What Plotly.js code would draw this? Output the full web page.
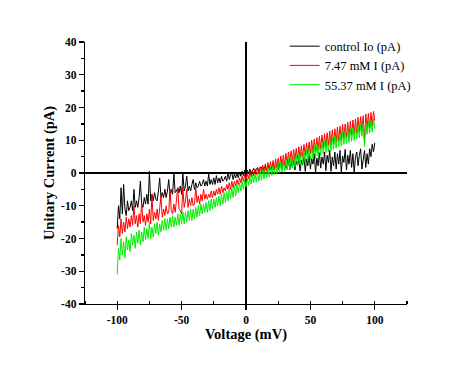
<!DOCTYPE html>
<html>
<head>
<meta charset="utf-8">
<script src="https://cdn.plot.ly/plotly-3.0.1.min.js"></script>
<style>html,body{margin:0;padding:0;background:#fff}#chart{width:474px;height:365px}</style>
</head>
<body>
<div id="chart"></div>
<script>
const seriesNames = ['control Io (pA)', '7.47 mM I (pA)', '55.37 mM I (pA)'];
const seriesColors = ['#000000', '#ff0000', '#00ee00'];

const voltage = [
-100,-99,-98,-97,-96,-95,-94,-93,-92,-91,-90,-89,-88,-87,-86,-85,-84,-83,-82,-81,
-80,-79,-78,-77,-76,-75,-74,-73,-72,-71,-70,-69,-68,-67,-66,-65,-64,-63,-62,-61,
-60,-59,-58,-57,-56,-55,-54,-53,-52,-51,-50,-49,-48,-47,-46,-45,-44,-43,-42,-41,
-40,-39,-38,-37,-36,-35,-34,-33,-32,-31,-30,-29,-28,-27,-26,-25,-24,-23,-22,-21,
-20,-19,-18,-17,-16,-15,-14,-13,-12,-11,-10,-9,-8,-7,-6,-5,-4,-3,-2,-1,
0,1,2,3,4,5,6,7,8,9,10,11,12,13,14,15,16,17,18,19,
20,21,22,23,24,25,26,27,28,29,30,31,32,33,34,35,36,37,38,39,
40,41,42,43,44,45,46,47,48,49,50,51,52,53,54,55,56,57,58,59,
60,61,62,63,64,65,66,67,68,69,70,71,72,73,74,75,76,77,78,79,
80,81,82,83,84,85,86,87,88,89,90,91,92,93,94,95,96,97,98,99,100];

const controlIo = [
-17,-10,-14,-4.5,-12.5,-3.5,-11,-13,-8.5,-11.5,-10.5,-8.5,-11.5,-5,-10.5,-8.5,-10.5,-7.5,-2.5,-9.5,
-10.5,-7.5,-9.5,-6.5,-9.5,0.5,-8.5,-6.5,-8.5,-6,-8,-8.5,-5.5,-1.5,-7.5,-6,-7.5,-5,-7.5,-5.5,
-2,-7,-5,-6.5,-0.3,-6,-5.5,-4.5,-6,-4,-6.5,-0.3,-5.5,-4,-1,-5.5,-4,-5.5,-3.5,-2,
-5,-3,-4.5,-4,-2.5,-4,-3.5,-2,-4,-2.5,-4,-0.3,-3.5,-2,-3.5,-1.5,-3.5,-0.8,-3,-1.5,
-3,-1,-2.5,-2,-1,-2.5,0.3,-2,-0.5,0,-2,-0.3,-1.5,0,-1.5,0.3,-1,0.6,-0.8,0.9,
-0.3,0.9,-0.2,1.2,0,1,1.4,0.2,1.3,1.6,0.4,1.4,1.8,0.6,1.7,2,0.7,1.9,2.2,0.9,
1.9,2.4,1,2.3,2.6,1.1,2.4,2.9,1.3,2.8,3.2,1.4,3,3.6,1,3.4,1.8,4,0.9,3.7,
2.2,4.4,0.6,3.9,2.5,4.9,0.5,4.2,2.2,5.4,1.2,4.4,2.7,5.9,0.2,4.6,2.2,6.2,1.5,4.9,
2.7,6.4,0.7,5.4,3.2,6.9,0.5,4.9,2.2,6.4,1.2,5.9,2.7,6.9,0.2,5.2,3.2,7.2,0.9,5.4,
2.7,6.9,1.7,5.9,0.2,4.9,6.4,2.2,5.4,7.4,1.2,4.9,6.9,1.7,5.9,2.7,7.4,5,8.8,6.5,9.2];

const mM747 = [
-22,-16,-19.5,-14,-18.5,-15,-18,-13.5,-17,-14,-16.5,-13,-16,-10,-15.5,-13,-16.5,-12.5,-15.5,-9,
-15,-13,-16,-12.5,-15,-11,-15.5,-6.5,-14.5,-12,-14,-11,-14.5,-11.5,-7,-13.5,-11,-13,-10,-12.5,
-12,-5,-11.5,-12.5,-9.5,-12,-9,-4.5,-11,-11.5,-12.5,-4.5,-10.5,-8.5,-5,-10.5,-8,-10,-7.5,-10,
-9.5,-4.5,-9,-7,-9.5,-6.5,-8.5,-5,-8,-6.5,-8,-6.5,-7.5,-5.5,-7.5,-5.5,-7,-5,-6.5,-4.5,
-6.5,-4,-6,-4.5,-5.5,-3.5,-5,-3,-5,-2.5,-4.5,-2.5,-4,-2,-3.5,-1.5,-3,-1,-2.5,-0.5,
-2,0,-1.8,0.3,-1.2,0.8,-0.8,1.2,-0.5,1.8,-0.2,2,0.2,2.4,0.4,2.8,0.6,3.2,0.9,3.5,
1,3.8,1.3,4.3,1.6,4.6,1.8,5.2,2.2,5.5,2.5,6,2.8,6.4,3.2,6.8,3.5,7.2,4,7.5,
4.2,8,4.6,8.3,5,8.7,5.2,9.2,5.6,9.5,6,10,6.2,10.4,6.6,10.8,7,11.2,7.4,11.6,
7.6,12,8,12.3,8.4,12.8,8.6,13.2,9,13.5,9.4,14,9.8,14.3,10,14.8,10.5,15,10.8,15.5,
11,15.8,11.5,16.2,11.8,16.5,12,17,12.5,17.2,12.8,17.5,9.5,18,13.5,18.2,13.8,18.5,14.2,18.8,16];

const mM5537 = [
-31,-23,-26.5,-20,-25,-21,-26,-19.5,-23.5,-20.5,-24,-18.5,-22,-19,-23,-18,-21.5,-17.5,-22,-18,
-21,-16.5,-20.5,-17,-20,-15,-20,-16.5,-19.5,-15.5,-18.5,-15,-19,-15.5,-18,-14.5,-17.5,-14,-17.5,-14,
-17,-13.5,-16.5,-13,-16.5,-13.5,-16,-12.5,-16,-12.5,-15.5,-12,-15.5,-12,-15,-11.5,-14.5,-11,-14.5,-11,
-14,-10.5,-13.5,-10,-13,-9.5,-12.5,-9.5,-12,-9,-12,-8.5,-11.5,-8,-11,-8,-10.5,-7.5,-10,-7,
-10,-6.5,-9.5,-6,-9,-5.5,-8.5,-5,-8,-4.5,-7.5,-4,-7,-3.5,-6,-3,-5.5,-2.5,-5,-2,
-4.3,-1.5,-3.8,-1,-3.4,-0.5,-3,-0.2,-2.8,0.2,-2.5,0.5,-2.2,1,-1.8,1.3,-1.5,1.6,-1.2,2,
-0.8,2.3,-0.5,2.6,-0.2,3,0,3.3,0.3,3.7,0.6,4,0.9,4.4,1.2,4.8,1.5,5.2,1.8,5.5,
2.2,5.8,2.5,6.3,2.8,6.7,3.2,7,3.6,7.5,4,7.8,4.3,8.3,4.7,8.7,5,9,5.4,9.5,
5.8,9.8,6.2,10.2,6.5,10.5,6.8,11,7.2,11.4,7.6,11.7,8,12,8.3,12.5,8.7,12.8,9,13.2,
9.3,13.5,9.7,13.8,10,14.2,10.4,14.5,10.8,14.8,11.2,15.2,8,15.5,11.8,15.8,12.2,16,12.5,16.5,13.5];

const xTickVals = [-100, -50, 0, 50, 100];
const xTickText = ['-100', '-50', '0', '50', '100'];
const yTickVals = [-40, -30, -20, -10, 0, 10, 20, 30, 40];
const yTickText = ['-40', '-30', '-20', '-10', '0', '10', '20', '30', '40'];

const seriesData = [controlIo, mM747, mM5537];
const traces = seriesData.map((ys, k) => ({
  x: voltage, y: ys, type: 'scatter', mode: 'lines', name: seriesNames[k],
  line: {color: seriesColors[k], width: 1}
}));

const serif = '"Liberation Serif", "Times New Roman", Times, serif';
const layout = {
  width: 474, height: 365,
  margin: {l: 85, r: 67, t: 42, b: 61},
  paper_bgcolor: '#fff', plot_bgcolor: '#fff',
  showlegend: true,
  legend: {x: 0.62, y: 1.04, xanchor: 'left', yanchor: 'top', bgcolor: 'rgba(0,0,0,0)',
    font: {family: serif, size: 12.5, color: '#000'}, itemwidth: 30, tracegroupgap: 0},
  xaxis: {
    range: [-125, 125], showgrid: false, zeroline: true, zerolinecolor: '#000', zerolinewidth: 1.3,
    showline: true, linecolor: '#000', linewidth: 1.3, mirror: false,
    tickmode: 'array', tickvals: xTickVals, ticktext: xTickText,
    ticks: 'outside', ticklen: 5, tickwidth: 1.3, tickcolor: '#000',
    minor: {dtick: 25, ticks: 'inside', ticklen: 3, tickwidth: 1.3, tickcolor: '#000', showgrid: false},
    tickfont: {family: serif, size: 11.5, color: '#000', weight: 'bold'},
    title: {text: '<b>Voltage (mV)</b>', font: {family: serif, size: 14.5, color: '#000'}, standoff: 1}
  },
  yaxis: {
    range: [-40, 40], showgrid: false, zeroline: true, zerolinecolor: '#000', zerolinewidth: 1.3,
    showline: true, linecolor: '#000', linewidth: 1.3, mirror: false,
    tickmode: 'array', tickvals: yTickVals, ticktext: yTickText,
    ticks: 'outside', ticklen: 5, tickwidth: 1.3, tickcolor: '#000',
    minor: {dtick: 5, ticks: 'outside', ticklen: 3, tickwidth: 1.3, tickcolor: '#000', showgrid: false},
    tickfont: {family: serif, size: 11.5, color: '#000', weight: 'bold'},
    title: {text: '<b>Unitary Current (pA)</b>', font: {family: serif, size: 14.5, color: '#000'}, standoff: 3}
  }
};

Plotly.newPlot('chart', traces, layout, {displayModeBar: false, staticPlot: true});
</script>
</body>
</html>
